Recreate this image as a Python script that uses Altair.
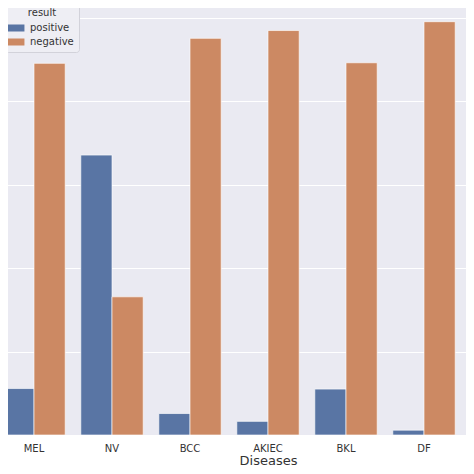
import altair as alt
import pandas as pd

categories = ["MEL", "NV", "BCC", "AKIEC", "BKL", "DF", "VASC"]
positive = [1113, 6705, 514, 327, 1099, 115, 142]
negative = [8902, 3310, 9501, 9688, 8916, 9900, 9873]
results = ["positive", "negative"]
colors = ["#5975A4", "#CC8963"]

rows = []
for c, p, n in zip(categories, positive, negative):
    rows.append({"Diseases": c, "result": "positive", "count": p})
    rows.append({"Diseases": c, "result": "negative", "count": n})
df = pd.DataFrame(rows)

rect_path = "M-2.7,-1H2.7V1H-2.7Z"

chart = alt.Chart(df).mark_bar(
    clip=True, stroke="#FFFFFF", strokeWidth=0.8, strokeOpacity=0.8
).encode(
    x=alt.X(
        "Diseases:N",
        sort=categories,
        scale=alt.Scale(range=[-13, 533], paddingInner=0.2, paddingOuter=0.1),
        axis=alt.Axis(
            values=categories[:6],
            labelAngle=0,
            ticks=False,
            tickSize=0,
            domain=False,
            grid=False,
            labelFontSize=10,
            labelColor="#333333",
            labelPadding=8,
            labelFont="DejaVu Sans",
            title="Diseases",
            titleFontSize=13,
            titleFontWeight="normal",
            titleColor="#333333",
            titleFont="DejaVu Sans",
            titleX=260,
            titleY=29,
            titleBaseline="alphabetic",
            titleAlign="center",
        ),
    ),
    xOffset=alt.XOffset("result:N", sort=results),
    y=alt.Y(
        "count:Q",
        scale=alt.Scale(domain=[0, 10228], nice=False),
        axis=alt.Axis(
            values=[0, 2000, 4000, 6000, 8000, 10000],
            labels=False,
            ticks=False,
            domain=False,
            grid=True,
            gridColor="#FFFFFF",
            gridWidth=1,
            title=None,
        ),
    ),
    color=alt.Color(
        "result:N",
        sort=results,
        scale=alt.Scale(domain=results, range=colors),
        legend=alt.Legend(
            orient="none",
            legendX=-3,
            legendY=-5,
            title="result",
            titleFontSize=10,
            titleFontWeight="normal",
            titleColor="#333333",
            titleFont="DejaVu Sans",
            titleAnchor="middle",
            titlePadding=5,
            labelFontSize=10,
            labelColor="#333333",
            labelFont="DejaVu Sans",
            labelOffset=10,
            symbolType=rect_path,
            symbolSize=49,
            symbolStrokeWidth=0,
            rowPadding=4,
            padding=5,
            fillColor="#EEEEF4",
            strokeColor="#D2D2DA",
            cornerRadius=3,
        ),
    ),
).properties(
    width=458,
    height=427,
    padding={"left": 0, "top": 0, "right": 0, "bottom": 31},
    autosize=alt.AutoSizeParams(type="none"),
).configure_view(
    fill="#EAEAF2", stroke=None
).configure_scale(
    offsetBandPaddingInner=0, offsetBandPaddingOuter=0
)

chart.save("out.html", embed_options={"renderer": "svg", "actions": False})
